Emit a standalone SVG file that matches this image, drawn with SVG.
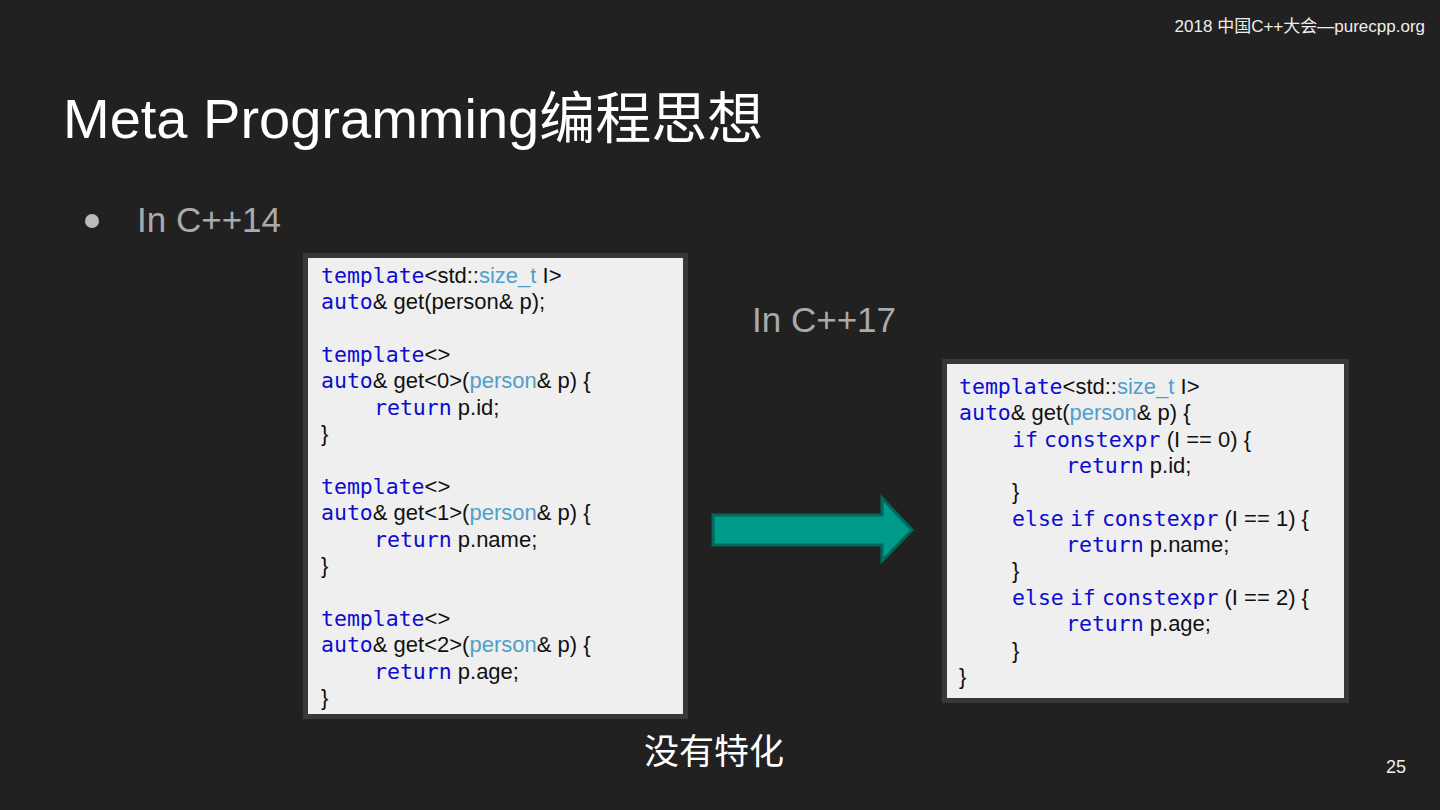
<svg xmlns="http://www.w3.org/2000/svg" width="1440" height="810" viewBox="0 0 1440 810">
<style>
.bg{fill:#212121}
.box{fill:#efefef;stroke:#383838;stroke-width:5}
.code{font-family:"Liberation Sans",Arial,sans-serif;font-size:22px;fill:#111}
.kw{font-family:"DejaVu Sans Mono","Liberation Mono",monospace;font-size:21.5px;fill:#0c0cd0}
.ty{fill:#4f9fca}
.title{font-family:"Liberation Sans","Noto Sans CJK SC",sans-serif;font-size:56px;fill:#ffffff}
.sub{font-family:"Liberation Sans",Arial,sans-serif;font-size:35px;fill:#aaaaaa}
</style>
<rect class="bg" x="0" y="0" width="1440" height="810"/>
<g id="header">
<text x="1425" y="32" text-anchor="end" style="font-family:'Liberation Sans','Noto Sans CJK SC',sans-serif;font-size:17px;fill:#eeeeee">2018 中国C++大会—purecpp.org</text>
</g>
<g id="title">
<text class="title" x="63" y="138">Meta Programming编程思想</text>
</g>
<g id="bullet">
<circle cx="92" cy="221" r="7" fill="#bbbbbb"/>
<text class="sub" x="137" y="232">In C++14</text>
</g>
<g id="label17">
<text class="sub" x="752" y="332">In C++17</text>
</g>
<g id="left-code">
<rect class="box" x="305.500" y="255.500" width="380" height="461"/>
<text class="code" x="321" y="283"><tspan class="kw">template</tspan>&lt;std::<tspan class="ty">size_t</tspan> I&gt;</text>
<text class="code" x="321" y="309"><tspan class="kw">auto</tspan>&amp; get(person&amp; p);</text>
<text class="code" x="321" y="362"><tspan class="kw">template</tspan>&lt;&gt;</text>
<text class="code" x="321" y="388"><tspan class="kw">auto</tspan>&amp; get&lt;0&gt;(<tspan class="ty">person</tspan>&amp; p) {</text>
<text class="code" x="374" y="415"><tspan class="kw">return</tspan> p.id;</text>
<text class="code" x="321" y="441">}</text>
<text class="code" x="321" y="494"><tspan class="kw">template</tspan>&lt;&gt;</text>
<text class="code" x="321" y="520"><tspan class="kw">auto</tspan>&amp; get&lt;1&gt;(<tspan class="ty">person</tspan>&amp; p) {</text>
<text class="code" x="374" y="547"><tspan class="kw">return</tspan> p.name;</text>
<text class="code" x="321" y="573">}</text>
<text class="code" x="321" y="626"><tspan class="kw">template</tspan>&lt;&gt;</text>
<text class="code" x="321" y="652"><tspan class="kw">auto</tspan>&amp; get&lt;2&gt;(<tspan class="ty">person</tspan>&amp; p) {</text>
<text class="code" x="374" y="679"><tspan class="kw">return</tspan> p.age;</text>
<text class="code" x="321" y="705">}</text>
</g>
<g id="connectors">
<polygon points="713,515 882,515 882,498 912,530 882,561 882,545 713,545" fill="#009a8a" stroke="#00695c" stroke-width="3" stroke-linejoin="miter"/>
</g>
<g id="right-code">
<rect class="box" x="944.500" y="361.500" width="402" height="339"/>
<text class="code" x="959" y="394"><tspan class="kw">template</tspan>&lt;std::<tspan class="ty">size_t</tspan> I&gt;</text>
<text class="code" x="959" y="420"><tspan class="kw">auto</tspan>&amp; get(<tspan class="ty">person</tspan>&amp; p) {</text>
<text class="code" x="1012" y="447"><tspan class="kw">if</tspan> <tspan class="kw">constexpr</tspan> (I == 0) {</text>
<text class="code" x="1066" y="473"><tspan class="kw">return</tspan> p.id;</text>
<text class="code" x="1012" y="499">}</text>
<text class="code" x="1012" y="526"><tspan class="kw">else</tspan> <tspan class="kw">if</tspan> <tspan class="kw">constexpr</tspan> (I == 1) {</text>
<text class="code" x="1066" y="552"><tspan class="kw">return</tspan> p.name;</text>
<text class="code" x="1012" y="578">}</text>
<text class="code" x="1012" y="605"><tspan class="kw">else</tspan> <tspan class="kw">if</tspan> <tspan class="kw">constexpr</tspan> (I == 2) {</text>
<text class="code" x="1066" y="631"><tspan class="kw">return</tspan> p.age;</text>
<text class="code" x="1012" y="658">}</text>
<text class="code" x="959" y="684">}</text>
</g>
<g id="caption">
<text x="714" y="764" text-anchor="middle" style="font-family:'Noto Sans CJK SC',sans-serif;font-size:35px;fill:#ffffff">没有特化</text>
</g>
<g id="page">
<text x="1406" y="773" text-anchor="end" style="font-family:'Liberation Sans',Arial,sans-serif;font-size:18px;fill:#eeeeee">25</text>
</g>
</svg>
